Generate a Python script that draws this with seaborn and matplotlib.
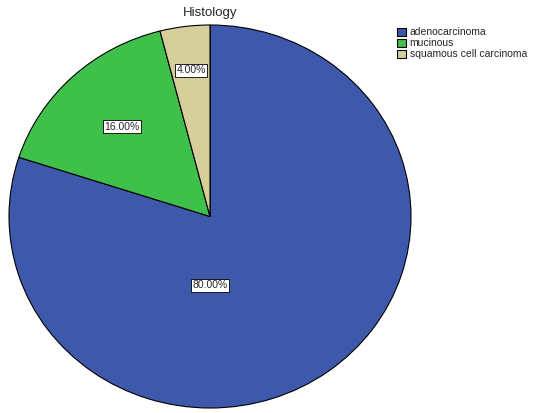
import numpy as np
import matplotlib
matplotlib.use("Agg")
import matplotlib.pyplot as plt
import seaborn as sns

categories = ["adenocarcinoma", "mucinous", "squamous cell carcinoma"]
percents = [80.0, 16.0, 4.0]
colors = ["#3e58ac", "#3ec04b", "#d6cf9a"]

sns.set_style("white")
plt.rcParams["font.family"] = ["Liberation Sans", "DejaVu Sans"]

fig = plt.figure(figsize=(5.5, 4.13), dpi=100)
ax = fig.add_axes([9 / 550, 5 / 413, 402 / 550, 383 / 413])

wedges, texts = ax.pie(percents, colors=colors, startangle=90, counterclock=False,
                       wedgeprops=dict(edgecolor="black", linewidth=0.8))
ax.set_xlim(-1, 1)
ax.set_ylim(-1, 1)
ax.set_aspect("auto")
ax.axis("off")

# label placement (angle in degrees, distance from centre)
label_pos = [(-90, 0.36), (133, 0.64), (97, 0.77)]
for p, (ang, r) in zip(percents, label_pos):
    a = np.deg2rad(ang)
    ax.text(r * np.cos(a), r * np.sin(a), f"{p:.2f}%", ha="center", va="center",
            fontsize=7.5, bbox=dict(boxstyle="square,pad=0.15", fc="white", ec="black", lw=0.6))

fig.text(210 / 550, 1 - 13 / 413, "Histology", ha="center", va="center", fontsize=9.5)

leg = fig.legend(wedges, categories, loc="upper left", bbox_to_anchor=(392 / 550, 1 - 22 / 413),
                 frameon=False, fontsize=7.5, handlelength=0.8, handleheight=0.8,
                 handletextpad=0.4, labelspacing=0.1, borderpad=0)

fig.savefig("out.png", dpi=100)
